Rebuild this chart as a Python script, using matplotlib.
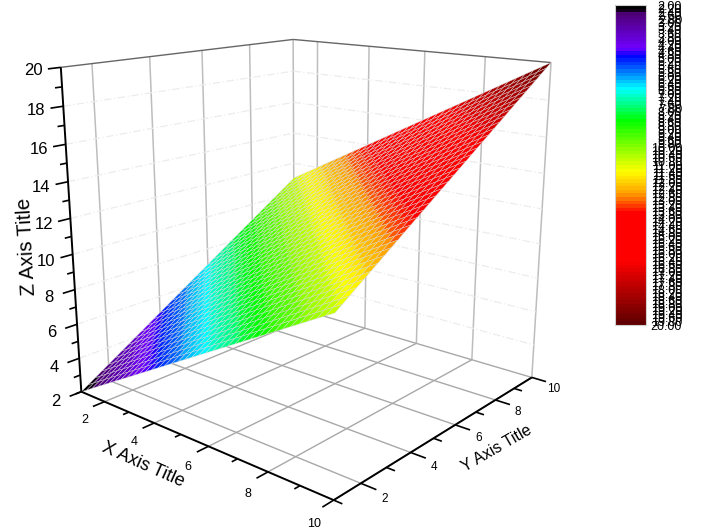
import matplotlib
matplotlib.use("Agg")
import matplotlib.pyplot as plt
import numpy as np
from matplotlib.cm import ScalarMappable
from matplotlib.colors import LinearSegmentedColormap, Normalize

plt.rcParams["font.family"] = ["Liberation Sans", "DejaVu Sans"]

# ── Datos ─────────────────────────────────────────────────────────────────────
x_vals = [
    1, 1.25, 1.5, 1.75, 2, 2.25, 2.5, 2.75, 3, 3.25, 3.5, 3.75, 4, 4.25, 4.5, 4.75, 5, 5.25, 5.5,
    5.75, 6, 6.25, 6.5, 6.75, 7, 7.25, 7.5, 7.75, 8, 8.25, 8.5, 8.75, 9, 9.25, 9.5, 9.75, 10,
]
y_vals = list(x_vals)
# z: constante a lo largo de cada antidiagonal de la malla
z_levels = [
    2, 2.25, 2.5, 2.75, 3, 3.25, 3.5, 3.75, 4, 4.25, 4.5, 4.75, 5, 5.25, 5.5, 5.75, 6, 6.25, 6.5,
    6.75, 7, 7.25, 7.5, 7.75, 8, 8.25, 8.5, 8.75, 9, 9.25, 9.5, 9.75, 10, 10.25, 10.5, 10.75, 11,
    11.25, 11.5, 11.75, 12, 12.25, 12.5, 12.75, 13, 13.25, 13.5, 13.75, 14, 14.25, 14.5, 14.75, 15,
    15.25, 15.5, 15.75, 16, 16.25, 16.5, 16.75, 17, 17.25, 17.5, 17.75, 18, 18.25, 18.5, 18.75, 19,
    19.25, 19.5, 19.75, 20,
]
xy_major = [2, 4, 6, 8, 10]
xy_minor = [1, 3, 5, 7, 9]
z_major = [2, 4, 6, 8, 10, 12, 14, 16, 18, 20]
z_minor = [3, 5, 7, 9, 11, 13, 15, 17, 19]

# ── Colores ───────────────────────────────────────────────────────────────────
rainbow = LinearSegmentedColormap.from_list(
    "origin_rainbow",
    [
        (0.0, "#000000"),
        (0.011, "#000000"),
        (0.012, "#4a0068"),
        (0.131, "#7000ff"),
        (0.155, "#0000ff"),
        (0.26, "#00ffff"),
        (0.36, "#00ff00"),
        (0.52, "#ffff00"),
        (0.59, "#ffa000"),
        (0.65, "#ff0000"),
        (0.80, "#ff0000"),
        (1.0, "#600000"),
    ],
    N=90,
)
norm = Normalize(2, 20)

W, H = 720, 532
fig = plt.figure(figsize=(W / 100, H / 100), dpi=100)

# camara ajustada a las esquinas de la imagen
s = 1080.5
cx, cy = 310.04, 231.42
ax = fig.add_axes([0, 0, 1, 1], projection="3d", computed_zorder=False)
ax.set_xlim(1, 10)
ax.set_ylim(1, 10)
ax.set_zlim(2, 20)
ax.view_init(elev=15.95, azim=-49.6)
ax.set_box_aspect((1, 0.993, 0.993), zoom=2.797)
ax.set_proj_type("persp", focal_length=1.0)
ax.set_axis_off()
xl, xr = ax.viewLim.intervalx
yl, yr = ax.viewLim.intervaly
ax.set_position(
    [(cx + s * xl) / W, (H - (cy - s * yl)) / H, s * (xr - xl) / W, s * (yr - yl) / H]
)


def line(xs, ys, zs, **kw):
    ax.plot(xs, ys, zs, solid_capstyle="butt", clip_on=False, **kw)


# paredes y piso
wall = dict(color="#bdbdbd", lw=1.1, zorder=1)
dash = dict(color="#ececec", lw=0.9, ls=(0, (6, 2, 1, 2)), zorder=1)
floor = dict(color="#a8a8a8", lw=1.0, zorder=1)
for v in xy_major:
    line([1, 1], [v, v], [2, 20], **wall)
    line([v, v], [10, 10], [2, 20], **wall)
    line([v, v], [1, 10], [2, 2], **floor)
    line([1, 10], [v, v], [2, 2], **floor)
for v in z_major[1:-1]:
    line([1, 1], [1, 10], [v, v], **dash)
    line([1, 10], [10, 10], [v, v], **dash)
line([1, 1], [1, 10], [2, 2], **floor)
line([1, 1], [1, 10], [20, 20], color="#666666", lw=1.0, zorder=1)
line([1, 10], [10, 10], [20, 20], color="#666666", lw=1.0, zorder=1)

# superficie
X, Y = np.meshgrid(x_vals, y_vals)
Z = np.array([z_levels[i : i + len(x_vals)] for i in range(len(y_vals))], dtype=float)
surf = ax.plot_surface(
    X,
    Y,
    Z,
    facecolors=rainbow(norm(Z)),
    rstride=1,
    cstride=1,
    shade=False,
    edgecolor="#d8d8d8",
    linewidth=0.28,
    zorder=2,
)
surf.set_clip_on(False)

# ejes
axis = dict(color="black", lw=1.4, zorder=3)
tick = dict(color="black", lw=1.2, zorder=3)
line([1, 10], [1, 1], [2, 2], **axis)
line([10, 10], [1, 10], [2, 2], **axis)
line([1, 1], [1, 1], [2, 20], **axis)
for v in xy_major:
    line([v, v], [1, 0.6], [2, 2], **tick)
    line([10, 10.45], [v, v], [2, 2], **tick)
    ax.text(v, 0.3, 1.45, str(v), fontsize=9, rotation=40, ha="center", va="center", zorder=4, clip_on=False)
    ax.text(10.7, v, 1.7, str(v), fontsize=8.5, rotation=-25, ha="center", va="center", zorder=4, clip_on=False)
for v in xy_minor:
    line([v, v], [1, 0.8], [2, 2], **tick)
    line([10, 10.25], [v, v], [2, 2], **tick)
for v in z_major:
    line([1, 1], [1, 0.6], [v, v], **tick)
    ax.text(1, 0.15, v, str(v), fontsize=12, ha="center", va="center", zorder=4, clip_on=False)
for v in z_minor:
    line([1, 1], [1, 0.78], [v, v], **tick)

fig.text(143 / W, 1 - 465 / H, "X Axis Title", fontsize=13, rotation=-24, ha="center", va="center")
fig.text(497 / W, 1 - 449 / H, "Y Axis Title", fontsize=11.5, rotation=30, ha="center", va="center")
fig.text(27 / W, 1 - 247 / H, "Z Axis Title", fontsize=14.5, rotation=93, ha="center", va="center")

# barra de color
cax = fig.add_axes([615 / W, 1 - 325 / H, 31 / W, 320 / H])
cb = fig.colorbar(ScalarMappable(norm=norm, cmap=rainbow), cax=cax)
cax.invert_yaxis()
cb.outline.set_edgecolor("#d0d0d0")
cb.outline.set_linewidth(0.8)
level_ticks = np.arange(2, 20.01, 0.2)
cb.set_ticks(level_ticks)
cb.set_ticklabels([f"{v:.2f}" for v in level_ticks])
cax.minorticks_off()
cax.tick_params(length=0, pad=26, labelsize=9)
for t in cax.get_yticklabels():
    t.set_ha("right")

fig.savefig("out.png", dpi=100)
